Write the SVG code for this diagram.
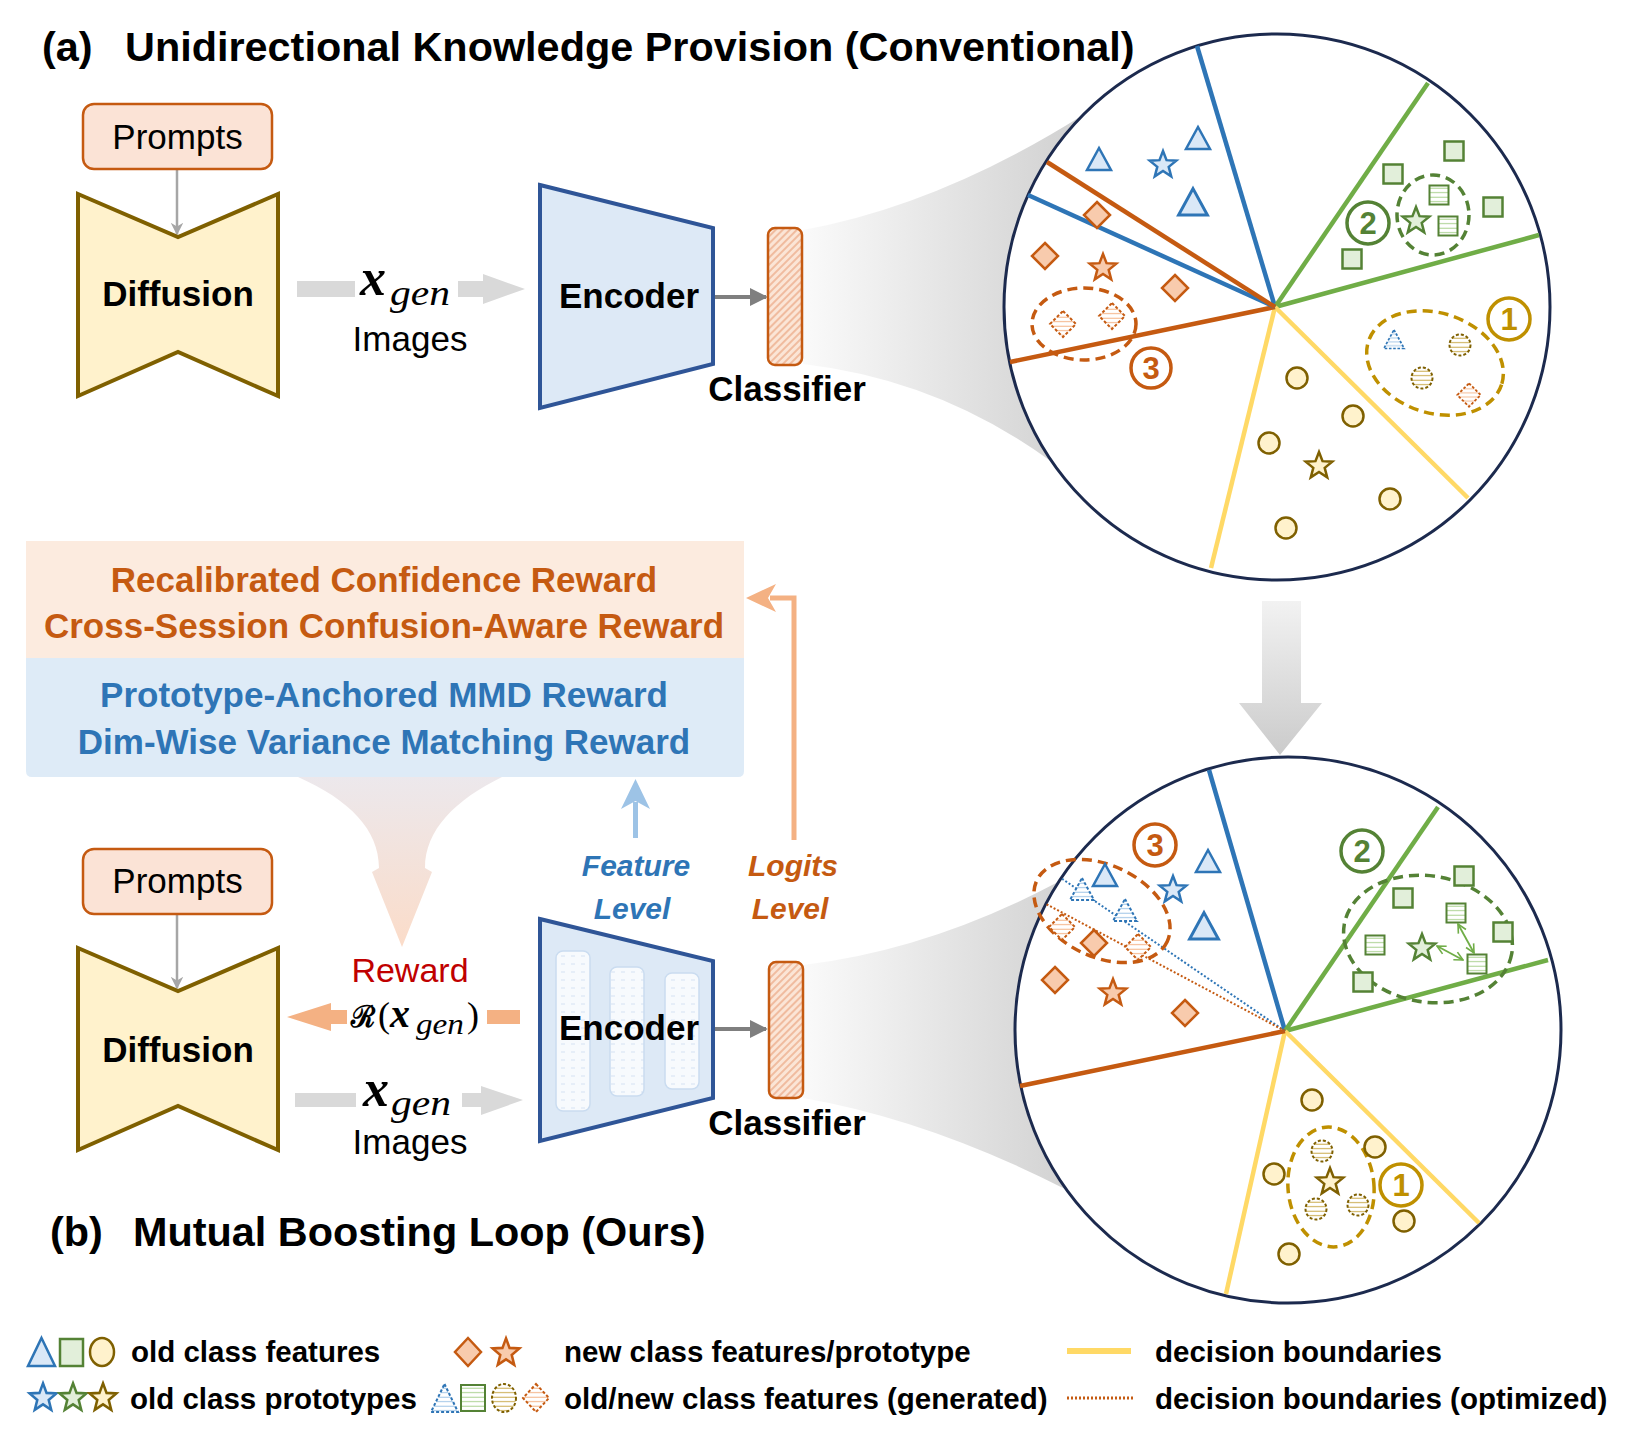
<svg xmlns="http://www.w3.org/2000/svg" xmlns:xlink="http://www.w3.org/1999/xlink" width="1632" height="1452" viewBox="0 0 1632 1452">
<defs>
<style>
text{font-family:"Liberation Sans",Arial,sans-serif;}
.title{font-size:41.4px;font-weight:bold;fill:#000;}
.lbl{font-size:35px;fill:#000;}
.lblb{font-size:35px;font-weight:bold;fill:#000;}
.rwo{font-size:35px;font-weight:bold;fill:#c55a11;}
.rwb{font-size:35px;font-weight:bold;fill:#2e75b6;}
.lvl{font-size:30px;font-weight:bold;font-style:italic;}
.leg{font-size:29.5px;font-weight:bold;fill:#000;}
.math{font-family:"Liberation Serif","DejaVu Serif",serif;font-style:italic;fill:#000;}
.up{font-family:"Liberation Serif","DejaVu Serif",serif;fill:#000;}
.prompt{fill:#fbe3d6;stroke:#c55a11;stroke-width:2.5;}
.diff{fill:#fff2cc;stroke:#7f6000;stroke-width:4;}
.enc{fill:#dde9f6;stroke:#2f5597;stroke-width:4;}
.cls{fill:url(#hatch);stroke:#c55a11;stroke-width:2.5;}
.disk{fill:#fff;stroke:#1c2a4e;stroke-width:3;}
.lB{stroke:#2e75b6;stroke-width:4.5;fill:none;}
.lG{stroke:#70ad47;stroke-width:4.5;fill:none;}
.lY{stroke:#ffd966;stroke-width:4.5;fill:none;}
.lO{stroke:#c55a11;stroke-width:4.5;fill:none;}
.tb{fill:#dae8f7;stroke:#2e75b6;stroke-width:2.5;}
.sg{fill:#e2efda;stroke:#548235;stroke-width:2.5;}
.cy{fill:#fff2cc;stroke:#7f6000;stroke-width:2.5;}
.do{fill:#f8cbad;stroke:#c55a11;stroke-width:2.5;}
.gb{fill:url(#stB);stroke:#2e75b6;stroke-width:2;stroke-dasharray:3 2;}
.gg{fill:url(#stG);stroke:#548235;stroke-width:2;}
.gy{fill:url(#stY);stroke:#7f6000;stroke-width:2;stroke-dasharray:3 2;}
.go{fill:url(#stO);stroke:#c55a11;stroke-width:2;stroke-dasharray:3 2;}
.eO{fill:none;stroke:#c55a11;stroke-width:3.5;stroke-dasharray:10 6;}
.eG{fill:none;stroke:#548235;stroke-width:3.5;stroke-dasharray:10 6;}
.eY{fill:none;stroke:#bf9000;stroke-width:3.5;stroke-dasharray:10 6;}
.numO{fill:none;stroke:#c55a11;stroke-width:3.5;}
.numG{fill:none;stroke:#548235;stroke-width:3.5;}
.numY{fill:none;stroke:#bf9000;stroke-width:3.5;}
.nt{font-size:31px;font-weight:bold;text-anchor:middle;}
.blk{fill:#d9d9d9;}
.rwa{fill:#f4b183;}
</style>
<pattern id="hatch" width="5" height="5" patternUnits="userSpaceOnUse" patternTransform="rotate(45)"><rect width="5" height="5" fill="#fbe5d6"/><line x1="1" y1="0" x2="1" y2="5" stroke="#e9a07a" stroke-width="1.2"/></pattern>
<pattern id="stB" width="6" height="4.5" patternUnits="userSpaceOnUse"><rect width="6" height="4.5" fill="#fff"/><line x1="0" y1="2.2" x2="6" y2="2.2" stroke="#9dc3e6" stroke-width="1"/></pattern>
<pattern id="stG" width="6" height="4.5" patternUnits="userSpaceOnUse"><rect width="6" height="4.5" fill="#fff"/><line x1="0" y1="2.2" x2="6" y2="2.2" stroke="#a9d18e" stroke-width="1"/></pattern>
<pattern id="stY" width="6" height="4.5" patternUnits="userSpaceOnUse"><rect width="6" height="4.5" fill="#fff"/><line x1="0" y1="2.2" x2="6" y2="2.2" stroke="#c9a94a" stroke-width="1"/></pattern>
<pattern id="stO" width="6" height="4.5" patternUnits="userSpaceOnUse"><rect width="6" height="4.5" fill="#fff"/><line x1="0" y1="2.2" x2="6" y2="2.2" stroke="#f4b183" stroke-width="1"/></pattern>
<pattern id="layer" width="10" height="8" patternUnits="userSpaceOnUse"><rect width="10" height="8" fill="#f7fafd"/><line x1="1" y1="4" x2="5" y2="4" stroke="#d5e3f3" stroke-width="1"/></pattern>
<linearGradient id="shade" x1="0" y1="0" x2="1" y2="0"><stop offset="0" stop-color="#fafafa"/><stop offset="0.75" stop-color="#d3d3d3"/><stop offset="1" stop-color="#cfcfcf"/></linearGradient>
<linearGradient id="down" x1="0" y1="0" x2="0" y2="1"><stop offset="0" stop-color="#f2f2f2"/><stop offset="1" stop-color="#cbcbcb"/></linearGradient>
<linearGradient id="funnel" x1="0" y1="0" x2="0" y2="1"><stop offset="0" stop-color="#ece8ec"/><stop offset="1" stop-color="#fbdcc9"/></linearGradient>
<marker id="mGray" viewBox="0 0 10 10" refX="9" refY="5" markerWidth="5" markerHeight="5" orient="auto"><path d="M0,0 L10,5 L0,10 L3,5 Z" fill="#a6a6a6"/></marker>
<marker id="mDark" viewBox="0 0 10 10" refX="9" refY="5" markerWidth="4.5" markerHeight="4.5" orient="auto"><path d="M0,0 L10,5 L0,10 Z" fill="#7f7f7f"/></marker>
<marker id="mGr" viewBox="0 0 10 10" refX="9" refY="5" markerWidth="6" markerHeight="6" orient="auto-start-reverse"><path d="M1,1 L9,5 L1,9" fill="none" stroke="#70ad47" stroke-width="1.5"/></marker>
<path id="tri" d="M0,-12 L12,10 L-12,10 Z"/>
<rect id="sq" x="-9.5" y="-9.5" width="19" height="19"/>
<circle id="cir" r="10.5"/>
<path id="dia" d="M0,-13 L13,0 L0,13 L-13,0 Z"/>
<path id="star" d="M0,-14 L3.53,-4.85 L13.31,-4.33 L5.71,1.85 L8.23,11.33 L0,6 L-8.23,11.33 L-5.71,1.85 L-13.31,-4.33 L-3.53,-4.85 Z"/>
</defs>
<rect width="1632" height="1452" fill="#fff"/>

<g id="titles">
<text class="title" x="42" y="61">(a)</text>
<text class="title" x="125" y="61">Unidirectional Knowledge Provision (Conventional)</text>
<text class="title" x="50" y="1246">(b)</text>
<text class="title" x="133" y="1246">Mutual Boosting Loop (Ours)</text>
</g>

<g id="connectors">
<path d="M803,230 Q940,205 1083,115 L1150,307 L1052,462 Q940,380 803,364 Z" fill="url(#shade)"/>
<path d="M803,965 Q930,950 1058,882 L1150,1030 L1067,1190 Q930,1120 803,1098 Z" fill="url(#shade)"/>
<path d="M1262,601 L1301,601 L1301,703 L1322,703 L1280,755 L1239,703 L1262,703 Z" fill="url(#down)"/>
<line x1="177" y1="169" x2="177" y2="234" stroke="#a6a6a6" stroke-width="2.5" marker-end="url(#mGray)"/>
<line x1="177" y1="914" x2="177" y2="988" stroke="#a6a6a6" stroke-width="2.5" marker-end="url(#mGray)"/>
<rect class="blk" x="297" y="281" width="58" height="16"/>
<path class="blk" d="M458,281 L483,281 L483,274 L525,289 L483,304 L483,297 L458,297 Z"/>
<rect class="blk" x="295" y="1093" width="61" height="14"/>
<path class="blk" d="M462,1093 L481,1093 L481,1086 L523,1100 L481,1115 L481,1107 L462,1107 Z"/>
<path class="rwa" d="M347,1010 L331,1010 L331,1003 L287,1017 L331,1031 L331,1024 L347,1024 Z"/>
<rect class="rwa" x="487" y="1010" width="33" height="14"/>
<line x1="715" y1="297" x2="766" y2="297" stroke="#7f7f7f" stroke-width="4" marker-end="url(#mDark)"/>
<line x1="715" y1="1029" x2="766" y2="1029" stroke="#7f7f7f" stroke-width="4" marker-end="url(#mDark)"/>
<path d="M298,777 C350,800 379,830 379,868 L372,872 L402,947 L432,872 L425,868 C425,830 455,800 502,777 Z" fill="url(#funnel)"/>
<line x1="635.5" y1="838" x2="635.5" y2="802" stroke="#9dc3e6" stroke-width="5"/>
<path d="M635.5,779 L650,809 L635.5,801 L621,809 Z" fill="#9dc3e6"/>
<polyline points="794,840 794,598 770,598" fill="none" stroke="#f4b183" stroke-width="5"/>
<path d="M746,598 L776,584 L768,598 L776,612 Z" fill="#f4b183"/>
</g>

<g id="node-prompts-a">
<rect class="prompt" x="83" y="104" width="189" height="65" rx="11"/>
<text class="lbl" x="177.5" y="149" text-anchor="middle">Prompts</text>
</g>
<g id="node-diffusion-a">
<polygon class="diff" points="78,194 178,237 278,194 278,396 178,352 78,396"/>
<text class="lblb" x="178" y="306" text-anchor="middle">Diffusion</text>
</g>
<g id="node-xgen-a">
<text class="math" x="360" y="295" font-size="52" font-weight="bold">x</text>
<text class="math" x="390" y="305" font-size="36" textLength="60" lengthAdjust="spacingAndGlyphs">gen</text>
<text class="lbl" x="410" y="351" text-anchor="middle">Images</text>
</g>
<g id="node-encoder-a">
<polygon class="enc" points="540,185 713,228 713,364 540,408"/>
<text class="lblb" x="629" y="308" text-anchor="middle">Encoder</text>
</g>
<g id="node-classifier-a">
<rect class="cls" x="768" y="228" width="34" height="137" rx="7"/>
<text class="lblb" x="787" y="401" text-anchor="middle">Classifier</text>
</g>

<g id="node-space-a">
<circle class="disk" cx="1277" cy="307" r="273"/>
<line class="lB" x1="1275" y1="307" x2="1197" y2="46"/>
<line class="lG" x1="1275" y1="307" x2="1428" y2="83"/>
<line class="lG" x1="1275" y1="307" x2="1539" y2="235"/>
<line class="lY" x1="1275" y1="307" x2="1468" y2="498"/>
<line class="lY" x1="1275" y1="307" x2="1211" y2="568"/>
<line class="lO" x1="1275" y1="307" x2="1010" y2="362"/>
<line class="lB" x1="1275" y1="307" x2="1028" y2="195"/>
<line class="lO" x1="1275" y1="307" x2="1047" y2="162"/>
<use href="#tri" class="tb" x="1099" y="160"/>
<use href="#tri" class="tb" x="1198" y="139"/>
<use href="#tri" class="tb" transform="translate(1193,203) scale(1.2)"/>
<use href="#star" class="tb" x="1163" y="165"/>
<use href="#dia" class="do" x="1097" y="215"/>
<use href="#dia" class="do" x="1045" y="256"/>
<use href="#dia" class="do" x="1175" y="288"/>
<use href="#star" class="do" x="1103" y="268"/>
<ellipse class="eO" cx="1084" cy="324" rx="52" ry="36"/>
<use href="#dia" class="go" x="1063" y="324"/>
<use href="#dia" class="go" x="1112" y="316"/>
<circle class="numO" cx="1151" cy="368" r="20"/>
<text class="nt" x="1151" y="379" fill="#c55a11">3</text>
<use href="#sq" class="sg" x="1454" y="151"/>
<use href="#sq" class="sg" x="1393" y="174"/>
<use href="#sq" class="sg" x="1493" y="207"/>
<use href="#sq" class="sg" x="1352" y="259"/>
<ellipse class="eG" cx="1433" cy="215" rx="36" ry="40"/>
<use href="#sq" class="gg" x="1439" y="195"/>
<use href="#sq" class="gg" x="1448" y="226"/>
<use href="#star" class="sg" x="1416" y="221"/>
<circle class="numG" cx="1368" cy="223" r="21"/>
<text class="nt" x="1368" y="234" fill="#548235">2</text>
<ellipse class="eY" cx="1435" cy="363" rx="70" ry="50" transform="rotate(18 1435 363)"/>
<use href="#tri" class="gb" transform="translate(1394,340) scale(0.85)"/>
<use href="#cir" class="gy" x="1460" y="345"/>
<use href="#cir" class="gy" x="1422" y="378"/>
<use href="#dia" class="go" transform="translate(1469,395) scale(0.9)"/>
<circle class="numY" cx="1509" cy="319" r="21"/>
<text class="nt" x="1509" y="330" fill="#bf9000">1</text>
<use href="#cir" class="cy" x="1297" y="378"/>
<use href="#cir" class="cy" x="1353" y="416"/>
<use href="#cir" class="cy" x="1269" y="443"/>
<use href="#cir" class="cy" x="1390" y="499"/>
<use href="#cir" class="cy" x="1286" y="528"/>
<use href="#star" class="cy" x="1319" y="466"/>
</g>

<g id="node-reward-box">
<rect x="26" y="541" width="718" height="117" fill="#fcebdf"/>
<path d="M26,658 L744,658 L744,771 Q744,777 738,777 L32,777 Q26,777 26,771 Z" fill="#deebf7"/>
<text class="rwo" x="384" y="592" text-anchor="middle">Recalibrated Confidence Reward</text>
<text class="rwo" x="384" y="638" text-anchor="middle">Cross-Session Confusion-Aware Reward</text>
<text class="rwb" x="384" y="707" text-anchor="middle">Prototype-Anchored MMD Reward</text>
<text class="rwb" x="384" y="754" text-anchor="middle">Dim-Wise Variance Matching Reward</text>
</g>
<g id="node-levels">
<text class="lvl" x="636" y="876" text-anchor="middle" fill="#2e75b6">Feature</text>
<text class="lvl" x="632" y="919" text-anchor="middle" fill="#2e75b6">Level</text>
<text class="lvl" x="793" y="876" text-anchor="middle" fill="#c55a11">Logits</text>
<text class="lvl" x="790" y="919" text-anchor="middle" fill="#c55a11">Level</text>
</g>

<g id="node-prompts-b">
<rect class="prompt" x="83" y="849" width="189" height="65" rx="11"/>
<text class="lbl" x="177.5" y="893" text-anchor="middle">Prompts</text>
</g>
<g id="node-diffusion-b">
<polygon class="diff" points="78,948 178,991 278,948 278,1150 178,1106 78,1150"/>
<text class="lblb" x="178" y="1062" text-anchor="middle">Diffusion</text>
</g>
<g id="node-reward-label">
<text x="410" y="982" font-size="34" fill="#c00000" text-anchor="middle">Reward</text>
<text class="up" x="351" y="1027" font-size="30" font-weight="bold" textLength="24" lengthAdjust="spacingAndGlyphs">ℛ</text>
<text class="up" x="378" y="1027" font-size="36">(</text>
<text class="math" x="390" y="1027" font-size="40" font-weight="bold">x</text>
<text class="math" x="416" y="1034" font-size="30" textLength="48" lengthAdjust="spacingAndGlyphs">gen</text>
<text class="up" x="467" y="1027" font-size="36">)</text>
</g>
<g id="node-xgen-b">
<text class="math" x="363" y="1106" font-size="52" font-weight="bold">x</text>
<text class="math" x="391" y="1115" font-size="36" textLength="60" lengthAdjust="spacingAndGlyphs">gen</text>
<text class="lbl" x="410" y="1154" text-anchor="middle">Images</text>
</g>
<g id="node-encoder-b">
<polygon class="enc" points="540,919 713,961 713,1098 540,1141"/>
<rect x="556" y="951" width="34" height="160" rx="7" fill="url(#layer)" stroke="#cadcf0" stroke-width="1.5"/>
<rect x="610" y="967" width="34" height="129" rx="7" fill="url(#layer)" stroke="#cadcf0" stroke-width="1.5"/>
<rect x="665" y="973" width="34" height="116" rx="7" fill="url(#layer)" stroke="#cadcf0" stroke-width="1.5"/>
<text class="lblb" x="629" y="1040" text-anchor="middle">Encoder</text>
</g>
<g id="node-classifier-b">
<rect class="cls" x="769" y="962" width="34" height="136" rx="7"/>
<text class="lblb" x="787" y="1135" text-anchor="middle">Classifier</text>
</g>

<g id="node-space-b">
<circle class="disk" cx="1288" cy="1030" r="273"/>
<line class="lB" x1="1285" y1="1031" x2="1209" y2="770"/>
<line class="lG" x1="1285" y1="1031" x2="1438" y2="807"/>
<line class="lG" x1="1285" y1="1031" x2="1548" y2="960"/>
<line class="lY" x1="1285" y1="1031" x2="1479" y2="1223"/>
<line class="lY" x1="1285" y1="1031" x2="1226" y2="1294"/>
<line class="lO" x1="1285" y1="1031" x2="1020" y2="1086"/>
<line x1="1285" y1="1031" x2="1061" y2="878" stroke="#2e75b6" stroke-width="2" stroke-dasharray="2 2"/>
<line x1="1285" y1="1031" x2="1046" y2="904" stroke="#c55a11" stroke-width="2" stroke-dasharray="2 2"/>
<circle class="numO" cx="1155" cy="845" r="21"/>
<text class="nt" x="1155" y="856" fill="#c55a11">3</text>
<ellipse class="eO" cx="1102" cy="911" rx="72" ry="46" transform="rotate(25 1102 911)"/>
<use href="#tri" class="gb" x="1082" y="890"/>
<use href="#tri" class="gb" x="1125" y="911"/>
<use href="#tri" class="tb" x="1105" y="876"/>
<use href="#dia" class="go" x="1062" y="927"/>
<use href="#dia" class="go" x="1138" y="947"/>
<use href="#dia" class="do" x="1094" y="943"/>
<use href="#tri" class="tb" x="1208" y="862"/>
<use href="#tri" class="tb" transform="translate(1204,927) scale(1.2)"/>
<use href="#star" class="tb" x="1173" y="890"/>
<use href="#dia" class="do" x="1055" y="980"/>
<use href="#dia" class="do" x="1185" y="1013"/>
<use href="#star" class="do" x="1113" y="993"/>
<circle class="numG" cx="1362" cy="851" r="21"/>
<text class="nt" x="1362" y="862" fill="#548235">2</text>
<ellipse class="eG" cx="1428" cy="939" rx="85" ry="63" transform="rotate(10 1428 939)"/>
<use href="#sq" class="sg" x="1464" y="876"/>
<use href="#sq" class="sg" x="1403" y="898"/>
<use href="#sq" class="sg" x="1503" y="932"/>
<use href="#sq" class="sg" x="1363" y="982"/>
<use href="#sq" class="gg" x="1456" y="913"/>
<use href="#sq" class="gg" x="1375" y="945"/>
<use href="#sq" class="gg" x="1477" y="964"/>
<use href="#star" class="sg" x="1422" y="948"/>
<line x1="1437" y1="946" x2="1463" y2="960" stroke="#70ad47" stroke-width="1.8" marker-start="url(#mGr)" marker-end="url(#mGr)"/>
<line x1="1458" y1="924" x2="1474" y2="953" stroke="#70ad47" stroke-width="1.8" marker-start="url(#mGr)" marker-end="url(#mGr)"/>
<circle class="numY" cx="1401" cy="1185" r="21"/>
<text class="nt" x="1401" y="1196" fill="#bf9000">1</text>
<ellipse class="eY" cx="1331" cy="1187" rx="43" ry="60" transform="rotate(-5 1331 1187)"/>
<use href="#cir" class="gy" x="1322" y="1151"/>
<use href="#cir" class="gy" x="1316" y="1209"/>
<use href="#cir" class="gy" x="1358" y="1205"/>
<use href="#star" class="cy" x="1330" y="1182"/>
<use href="#cir" class="cy" x="1312" y="1100"/>
<use href="#cir" class="cy" x="1375" y="1147"/>
<use href="#cir" class="cy" x="1274" y="1174"/>
<use href="#cir" class="cy" x="1404" y="1221"/>
<use href="#cir" class="cy" x="1289" y="1254"/>
</g>

<g id="legend">
<path class="tb" d="M41.5,1338 L55,1366 L28,1366 Z"/>
<rect class="sg" x="60" y="1339" width="23" height="27"/>
<ellipse class="cy" cx="102" cy="1352" rx="12" ry="14"/>
<text class="leg" x="131" y="1362">old class features</text>
<path class="do" d="M468,1338 L481,1352 L468,1366 L455,1352 Z"/>
<use href="#star" class="do" transform="translate(506,1353) scale(1,1.05)"/>
<text class="leg" x="564" y="1362">new class features/prototype</text>
<line x1="1067" y1="1351" x2="1131" y2="1351" stroke="#ffd966" stroke-width="6"/>
<text class="leg" x="1155" y="1362">decision boundaries</text>
<use href="#star" class="tb" transform="translate(43,1398) scale(1,1.05)"/>
<use href="#star" class="sg" transform="translate(73,1398) scale(1,1.05)"/>
<use href="#star" class="cy" transform="translate(103,1398) scale(1,1.05)"/>
<text class="leg" x="130" y="1409">old class prototypes</text>
<path class="gb" d="M444.5,1384 L458,1412 L431,1412 Z"/>
<rect class="gg" x="461" y="1385" width="24" height="26"/>
<ellipse class="gy" cx="504" cy="1398" rx="12" ry="14"/>
<path class="go" d="M536,1384 L549,1398 L536,1412 L523,1398 Z"/>
<text class="leg" x="564" y="1409">old/new class features (generated)</text>
<line x1="1067" y1="1398" x2="1134" y2="1398" stroke="#c55a11" stroke-width="3" stroke-dasharray="2 2"/>
<text class="leg" x="1155" y="1409">decision boundaries (optimized)</text>
</g>
</svg>
